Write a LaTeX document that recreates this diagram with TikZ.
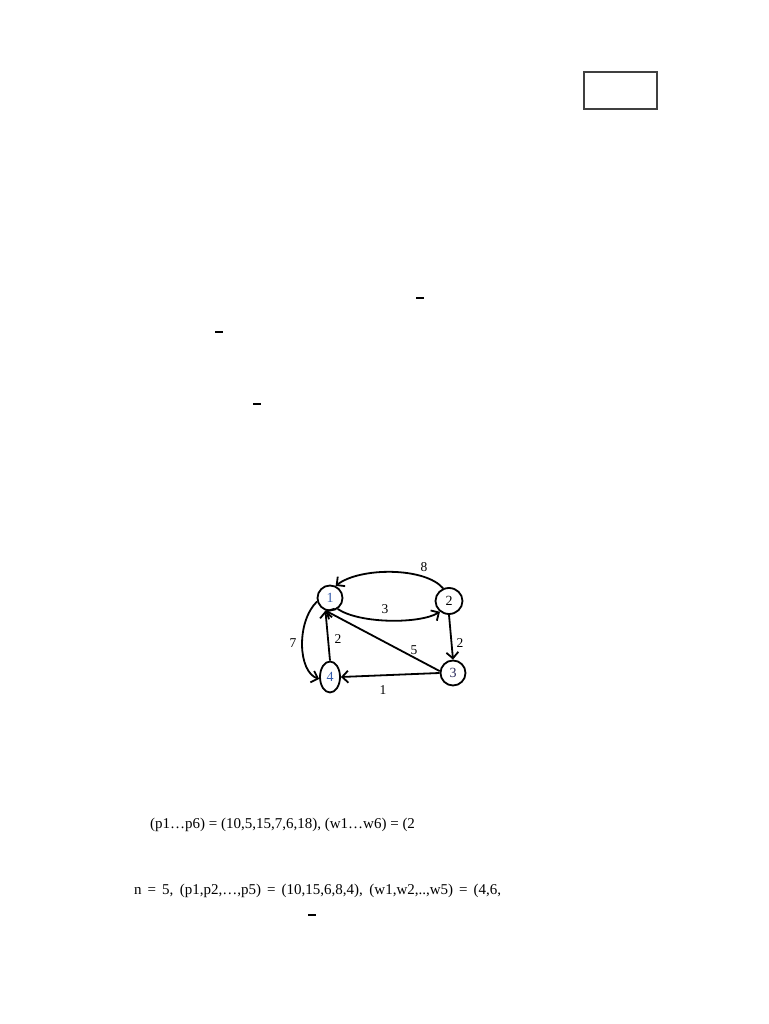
\documentclass[tikz,border=0pt]{standalone}
\usepackage{fontspec}
\setmainfont{Liberation Serif}
\usetikzlibrary{arrows.meta,shapes.geometric}
\definecolor{nblue}{RGB}{50,90,170}
\definecolor{ndark}{RGB}{40,40,90}
\begin{document}
\begin{tikzpicture}[x=1pt,y=1pt,
  vert/.style={draw,line width=1.8pt,ellipse,inner sep=0pt,font=\fontsize{14}{15}\selectfont},
  arr/.style={line width=1.8pt,-{Straight Barb[length=6pt,width=12pt]}},
  elab/.style={font=\fontsize{13.5}{14}\selectfont},
  txt/.style={font=\fontsize{15}{17}\selectfont,anchor=base west,inner sep=0pt},
  bar/.style={line width=1.2pt}]
\useasboundingbox (0,0) rectangle (768,1024);
\fill[white] (0,0) rectangle (768,1024);
% box top right
\node[draw,line width=1.1pt,draw=black!75,minimum width=73pt,minimum height=37pt,inner sep=0pt] (box) at (620.5,933.5) {};
% small bars
\coordinate (b1) at (420,726);
\draw[bar] ([xshift=-4pt]b1) -- ([xshift=4pt]b1);
\coordinate (b2) at (219,692);
\draw[bar] ([xshift=-4pt]b2) -- ([xshift=4pt]b2);
\coordinate (b3) at (257,620);
\draw[bar] ([xshift=-4pt]b3) -- ([xshift=4pt]b3);
\coordinate (b4) at (312,109);
\draw[bar] ([xshift=-4pt]b4) -- ([xshift=4pt]b4);
% graph
\node[vert,minimum width=25pt,minimum height=25pt,text=nblue] (n1) at (330,426) {1};
\node[vert,minimum width=27pt,minimum height=26pt] (n2) at (449,423) {2};
\node[vert,minimum width=25pt,minimum height=25pt,text=ndark] (n3) at (453,351) {3};
\node[vert,minimum width=20pt,minimum height=31pt,text=nblue] (n4) at (330,347) {4};
\draw[arr] (n2.115) .. controls (425,457) and (360,457) .. (n1.65);
\node[elab] (l8) at (424,457) {8};
\draw[arr] (n1.-55) .. controls (360,400) and (420,400) .. (n2.-130);
\node[elab] (l3) at (385,415) {3};
\draw[arr] (n2.south) -- (n3.north);
\node[elab] (l23) at (460,381) {2};
\draw[arr] (n3.172) -- (n1.250);
\node[elab] (l5) at (414,374) {5};
\draw[arr] (n3.west) -- (n4.east);
\node[elab] (l1) at (383,334) {1};
\draw[arr] (n4.north) -- (n1.250);
\node[elab] (l41) at (338,385) {2};
\draw[arr] (n1.195) .. controls (296,402) and (298,352) .. (n4.190);
\node[elab] (l7) at (293,381) {7};
% text lines
\node[txt] (t1) at (150,195) {(p1\ldots p6) = (10,5,15,7,6,18), (w1\ldots w6) = (2};
\node[txt] (t2) at (134,129) {\makebox[367pt][s]{n = 5, (p1,p2,\ldots,p5) = (10,15,6,8,4), (w1,w2,..,w5) = (4,6,}};
\end{tikzpicture}
\end{document}
